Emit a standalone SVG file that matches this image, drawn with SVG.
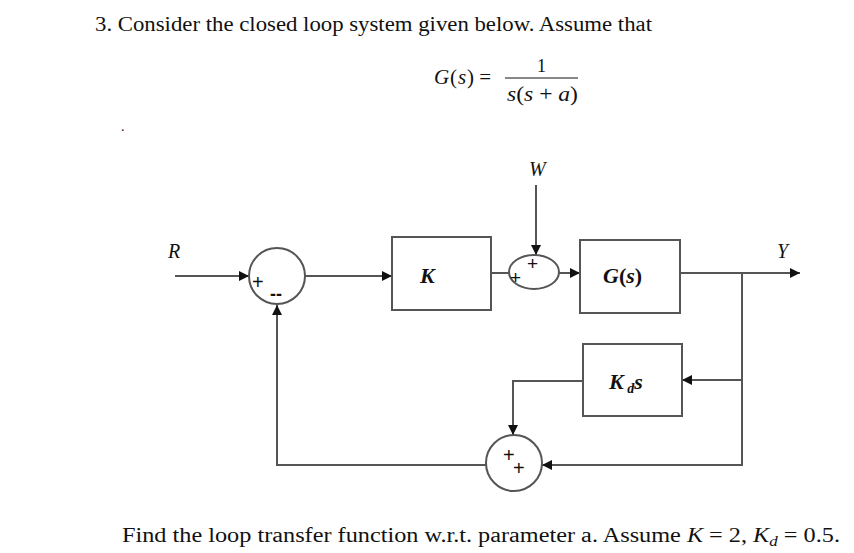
<svg xmlns="http://www.w3.org/2000/svg" width="854" height="553" viewBox="0 0 854 553">
<style>
.l{stroke:#555;stroke-width:2;fill:none}
.b{stroke:#555;stroke-width:2;fill:#fff}
.t{font-family:"Liberation Serif",serif;fill:#111}
.i{font-family:"Liberation Serif",serif;font-style:italic;fill:#111}
.p{font-family:"Liberation Sans",sans-serif;fill:#111}
</style>
<defs><marker id="a" viewBox="0 0 10 10" refX="10" refY="5" markerWidth="13" markerHeight="10" markerUnits="userSpaceOnUse" orient="auto"><path d="M0,0L10,5L0,10z" fill="#111"/></marker></defs>
<rect width="854" height="553" fill="#fff"/>
<text class="t" x="95" y="31" font-size="20" textLength="557" lengthAdjust="spacingAndGlyphs">3. Consider the closed loop system given below. Assume that</text>
<text class="i" x="434" y="84" font-size="21">G</text><text class="t" x="450" y="84" font-size="21">(</text><text class="i" x="458" y="84" font-size="21">s</text><text class="t" x="467" y="84" font-size="21">) =</text>
<text class="t" x="537" y="72" font-size="18">1</text>
<line x1="505" y1="78" x2="578" y2="78" stroke="#111" stroke-width="1.2"/>
<text class="t" x="507" y="101" font-size="21" textLength="71" lengthAdjust="spacingAndGlyphs"><tspan font-style="italic">s</tspan>(<tspan font-style="italic">s</tspan> + <tspan font-style="italic">a</tspan>)</text>
<text class="t" x="121" y="131" font-size="14">.</text>
<text class="t" x="122" y="542" font-size="20" textLength="718" lengthAdjust="spacingAndGlyphs">Find the loop transfer function w.r.t. parameter a. Assume <tspan font-style="italic">K</tspan> = 2, <tspan font-style="italic">K</tspan><tspan font-size="14" font-style="italic" dy="4">d</tspan><tspan dy="-4"> = 0.5.</tspan></text>
<g id="connectors">
<path class="l" d="M175,276H249" marker-end="url(#a)"/>
<path class="l" d="M305,276H392" marker-end="url(#a)"/>
<path class="l" d="M536,185V255" marker-end="url(#a)"/>
<path class="l" d="M491,273H509"/>
<path class="l" d="M559,273H580" marker-end="url(#a)"/>
<path class="l" d="M680,273H800" marker-end="url(#a)"/>
<path class="l" d="M742,273V465H542" marker-end="url(#a)"/>
<path class="l" d="M742,380H682" marker-end="url(#a)"/>
<path class="l" d="M583,381H513V435" marker-end="url(#a)"/>
<path class="l" d="M486,465H277V305" marker-end="url(#a)"/>
</g>
<g id="R"><text class="i" x="168" y="258" font-size="20">R</text></g>
<g id="W"><text class="i" x="529" y="176" font-size="20">W</text></g>
<g id="Y"><text class="i" x="777" y="258" font-size="20">Y</text></g>
<g id="sum1"><circle class="b" cx="277" cy="276" r="28"/><text class="p" x="252" y="289" font-size="20">+</text><text class="p" x="270" y="300" font-size="18" font-weight="bold">--</text></g>
<g id="K"><rect class="b" x="392" y="237" width="99" height="73"/><text class="i" x="420" y="283" font-size="22" font-weight="bold">K</text></g>
<g id="sum2"><ellipse class="b" cx="534" cy="272" rx="25" ry="17"/><text class="p" x="510" y="284" font-size="19">+</text><text class="p" x="527" y="270" font-size="19">+</text></g>
<g id="G"><rect class="b" x="580" y="240" width="100" height="73"/><text class="t" x="603" y="283" font-size="22" font-weight="bold"><tspan font-style="italic">G</tspan>(<tspan font-style="italic">s</tspan>)</text></g>
<g id="Kd"><rect class="b" x="583" y="344" width="99" height="72"/><text class="i" x="609" y="389" font-size="22" font-weight="bold">K<tspan font-size="14" dy="4"> d</tspan><tspan dy="-4">s</tspan></text></g>
<g id="sum3"><circle class="b" cx="514" cy="463" r="28"/><text class="p" x="503" y="462" font-size="20">+</text><text class="p" x="513" y="475" font-size="20">+</text></g>
</svg>
